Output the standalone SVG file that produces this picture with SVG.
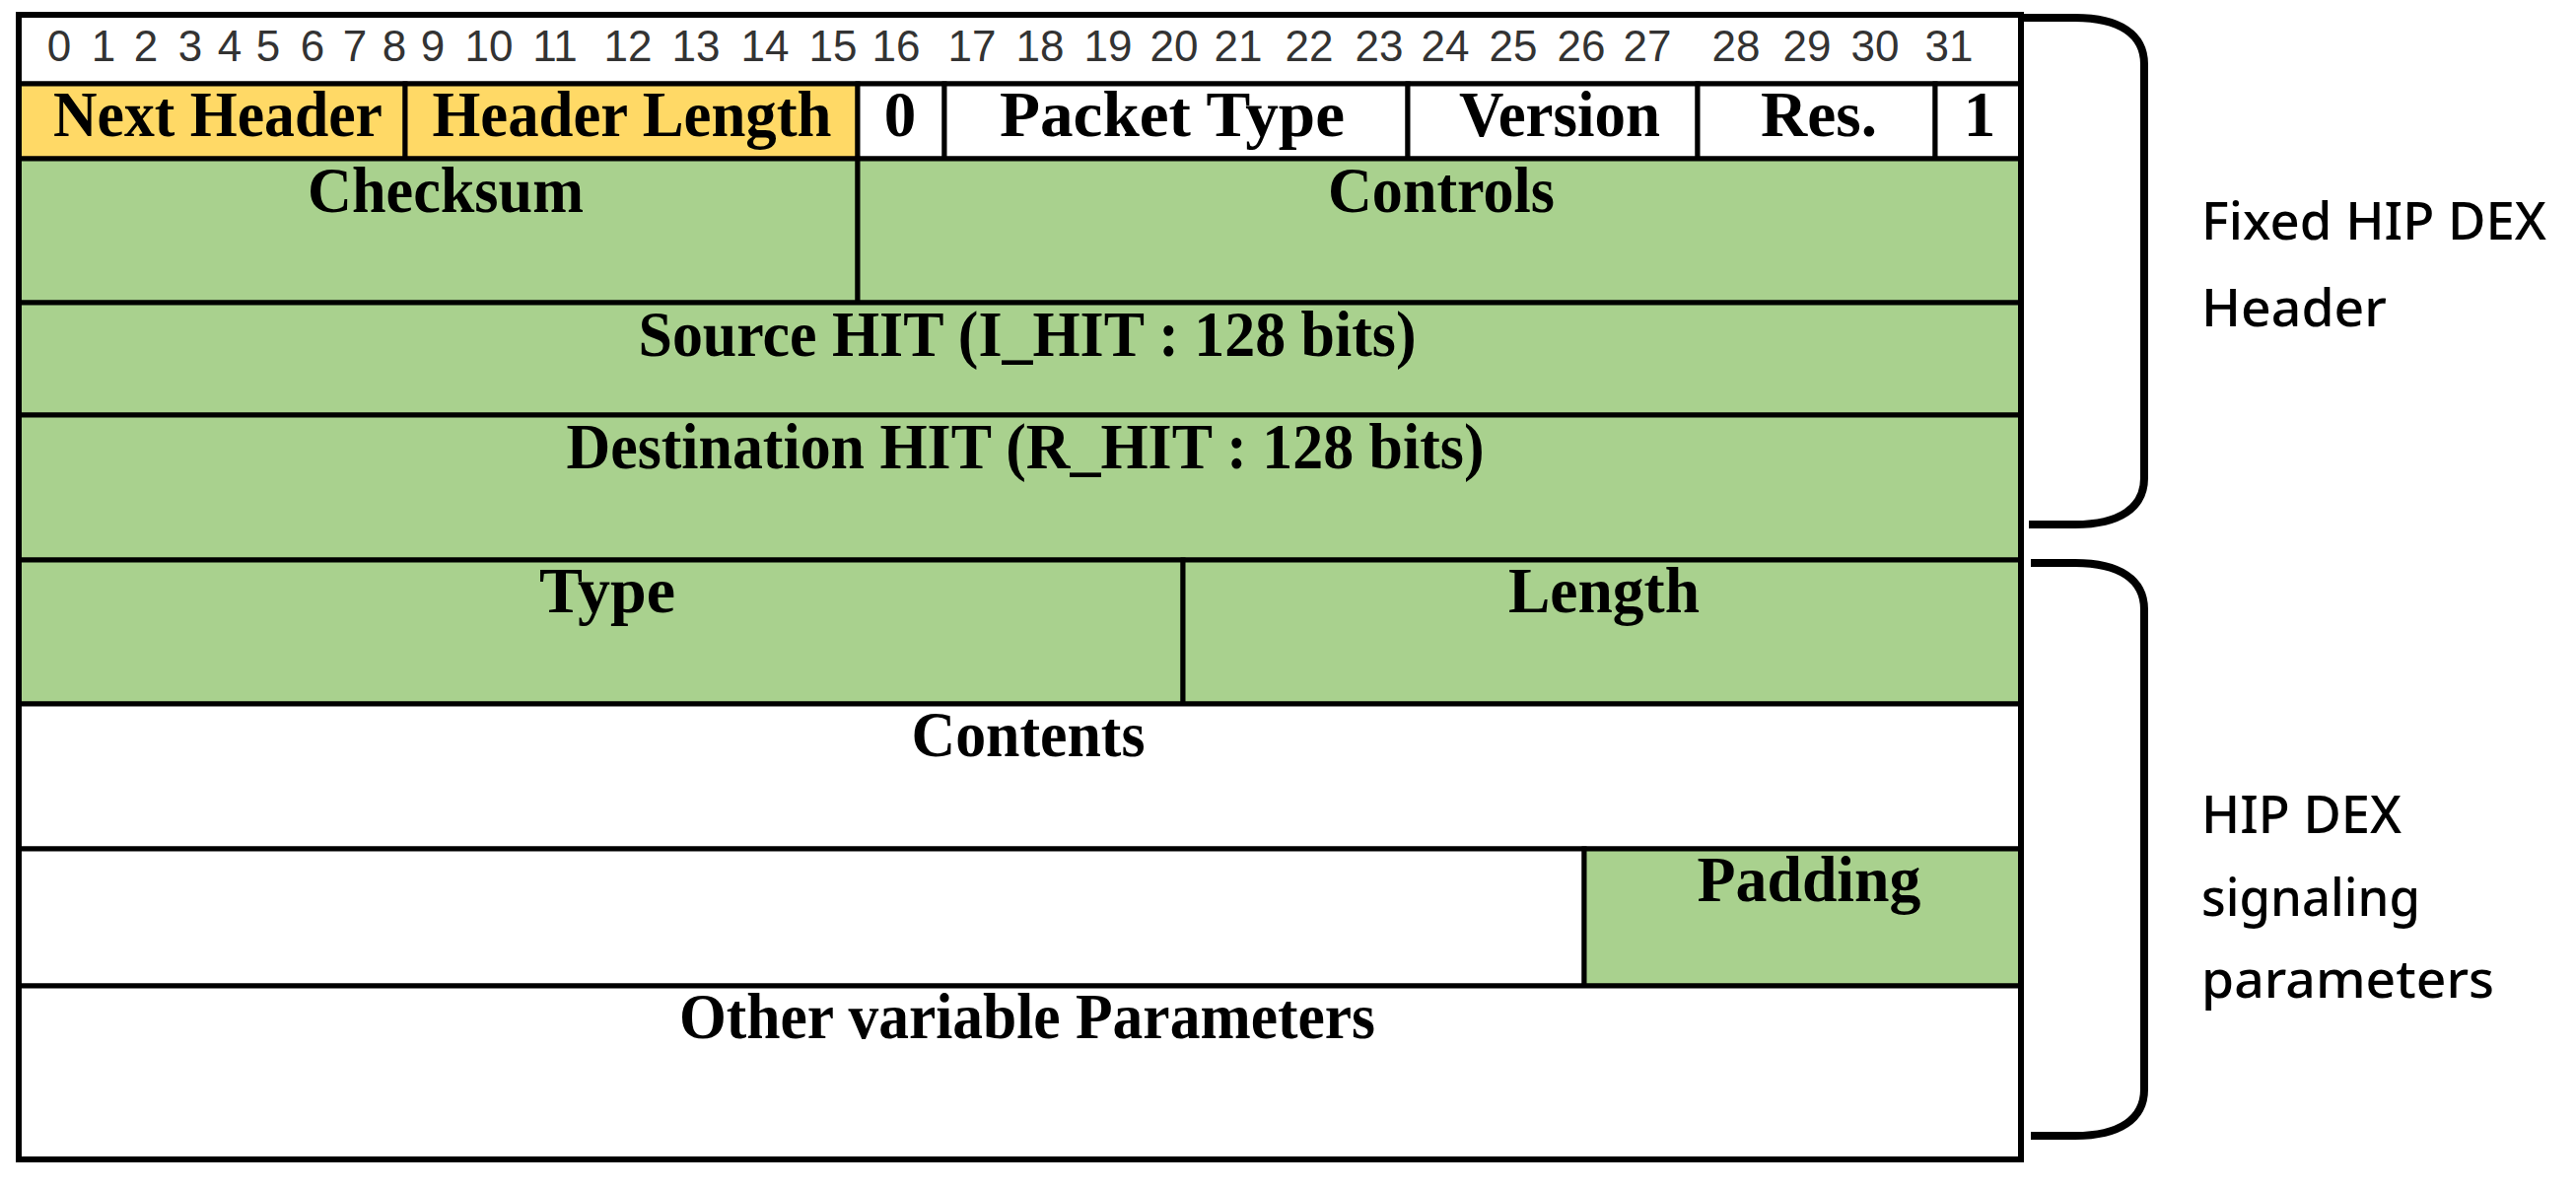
<svg xmlns="http://www.w3.org/2000/svg" width="2613" height="1206" viewBox="0 0 2613 1206">
<style>
.cell{stroke:#000;stroke-width:5}
.y{fill:#FFD966}.g{fill:#A9D18E}.w{fill:#FFFFFF}
.t{font-family:"Liberation Serif","Times New Roman",serif;font-weight:bold;font-size:65px;text-anchor:middle;fill:#000}
.bits{font-family:"Liberation Sans",Arial,sans-serif;font-size:44px;fill:#333;text-anchor:middle}
.lab{font-family:"Noto Sans","Open Sans",sans-serif;font-size:53px;font-weight:500;fill:#000}
.br{fill:none;stroke:#000;stroke-width:8}
</style>
<rect width="2613" height="1206" fill="#fff"/>
<g id="bit-row">
<rect class="cell w" x="19" y="15" width="2031" height="70"/>
<text class="bits" y="62"><tspan x="60">0</tspan><tspan x="105">1</tspan><tspan x="148">2</tspan><tspan x="193">3</tspan><tspan x="233">4</tspan><tspan x="272">5</tspan><tspan x="317">6</tspan><tspan x="360">7</tspan><tspan x="400">8</tspan><tspan x="439">9</tspan><tspan x="496">10</tspan><tspan x="563">11</tspan><tspan x="637">12</tspan><tspan x="706">13</tspan><tspan x="776">14</tspan><tspan x="845">15</tspan><tspan x="909">16</tspan><tspan x="986">17</tspan><tspan x="1055">18</tspan><tspan x="1124">19</tspan><tspan x="1191">20</tspan><tspan x="1256">21</tspan><tspan x="1328">22</tspan><tspan x="1399">23</tspan><tspan x="1466">24</tspan><tspan x="1535">25</tspan><tspan x="1604">26</tspan><tspan x="1671">27</tspan><tspan x="1761">28</tspan><tspan x="1833">29</tspan><tspan x="1902">30</tspan><tspan x="1977">31</tspan></text>
</g>
<g id="next-header"><rect class="cell y" x="19" y="85" width="392" height="76"/><text class="t" x="221" y="138" textLength="334" lengthAdjust="spacingAndGlyphs">Next Header</text></g>
<g id="header-length"><rect class="cell y" x="411" y="85" width="459" height="76"/><text class="t" x="641" y="138" textLength="405" lengthAdjust="spacingAndGlyphs">Header Length</text></g>
<g id="bit-zero"><rect class="cell w" x="870" y="85" width="88" height="76"/><text class="t" x="913" y="138">0</text></g>
<g id="packet-type"><rect class="cell w" x="958" y="85" width="470" height="76"/><text class="t" x="1189" y="138" textLength="350" lengthAdjust="spacingAndGlyphs">Packet Type</text></g>
<g id="version"><rect class="cell w" x="1428" y="85" width="294" height="76"/><text class="t" x="1582" y="138" textLength="204" lengthAdjust="spacingAndGlyphs">Version</text></g>
<g id="res"><rect class="cell w" x="1722" y="85" width="241" height="76"/><text class="t" x="1845" y="138" textLength="118" lengthAdjust="spacingAndGlyphs">Res.</text></g>
<g id="bit-one"><rect class="cell w" x="1963" y="85" width="87" height="76"/><text class="t" x="2008" y="138">1</text></g>
<g id="checksum"><rect class="cell g" x="19" y="161" width="851" height="146"/><text class="t" x="452" y="215" textLength="280" lengthAdjust="spacingAndGlyphs">Checksum</text></g>
<g id="controls"><rect class="cell g" x="870" y="161" width="1180" height="146"/><text class="t" x="1462" y="215" textLength="230" lengthAdjust="spacingAndGlyphs">Controls</text></g>
<g id="source-hit"><rect class="cell g" x="19" y="307" width="2031" height="114"/><text class="t" x="1042" y="361" textLength="789" lengthAdjust="spacingAndGlyphs">Source HIT (I_HIT : 128 bits)</text></g>
<g id="destination-hit"><rect class="cell g" x="19" y="421" width="2031" height="147"/><text class="t" x="1040" y="475" textLength="931" lengthAdjust="spacingAndGlyphs">Destination HIT (R_HIT : 128 bits)</text></g>
<g id="type"><rect class="cell g" x="19" y="568" width="1181" height="146"/><text class="t" x="616" y="621" textLength="138" lengthAdjust="spacingAndGlyphs">Type</text></g>
<g id="length"><rect class="cell g" x="1200" y="568" width="850" height="146"/><text class="t" x="1627" y="621" textLength="194" lengthAdjust="spacingAndGlyphs">Length</text></g>
<g id="contents"><rect class="cell w" x="19" y="714" width="2031" height="147"/><text class="t" x="1043" y="767" textLength="237" lengthAdjust="spacingAndGlyphs">Contents</text></g>
<g id="blank"><rect class="cell w" x="19" y="861" width="1588" height="139"/></g>
<g id="padding"><rect class="cell g" x="1607" y="861" width="443" height="139"/><text class="t" x="1835" y="914" textLength="227" lengthAdjust="spacingAndGlyphs">Padding</text></g>
<g id="other-params"><rect class="cell w" x="19" y="1000" width="2031" height="176"/><text class="t" x="1042" y="1053" textLength="706" lengthAdjust="spacingAndGlyphs">Other variable Parameters</text></g>
<rect x="19" y="15" width="2031" height="1161" fill="none" stroke="#000" stroke-width="6"/>
<g id="connectors">
<path class="br" d="M2052 18 H2105 C2150 18 2175 35 2175 65 V485 C2175 515 2150 532 2105 532 H2058"/>
<path class="br" d="M2060 571 H2105 C2150 571 2175 588 2175 618 V1105 C2175 1135 2150 1152 2105 1152 H2060"/>
</g>
<g id="label-fixed">
<text class="lab" x="2233" y="243" textLength="350" lengthAdjust="spacingAndGlyphs">Fixed HIP DEX</text>
<text class="lab" x="2233" y="331" textLength="188" lengthAdjust="spacingAndGlyphs">Header</text>
</g>
<g id="label-signaling">
<text class="lab" x="2233" y="845" textLength="203" lengthAdjust="spacingAndGlyphs">HIP DEX</text>
<text class="lab" x="2233" y="929" textLength="222" lengthAdjust="spacingAndGlyphs">signaling</text>
<text class="lab" x="2233" y="1012" textLength="297" lengthAdjust="spacingAndGlyphs">parameters</text>
</g>
</svg>
